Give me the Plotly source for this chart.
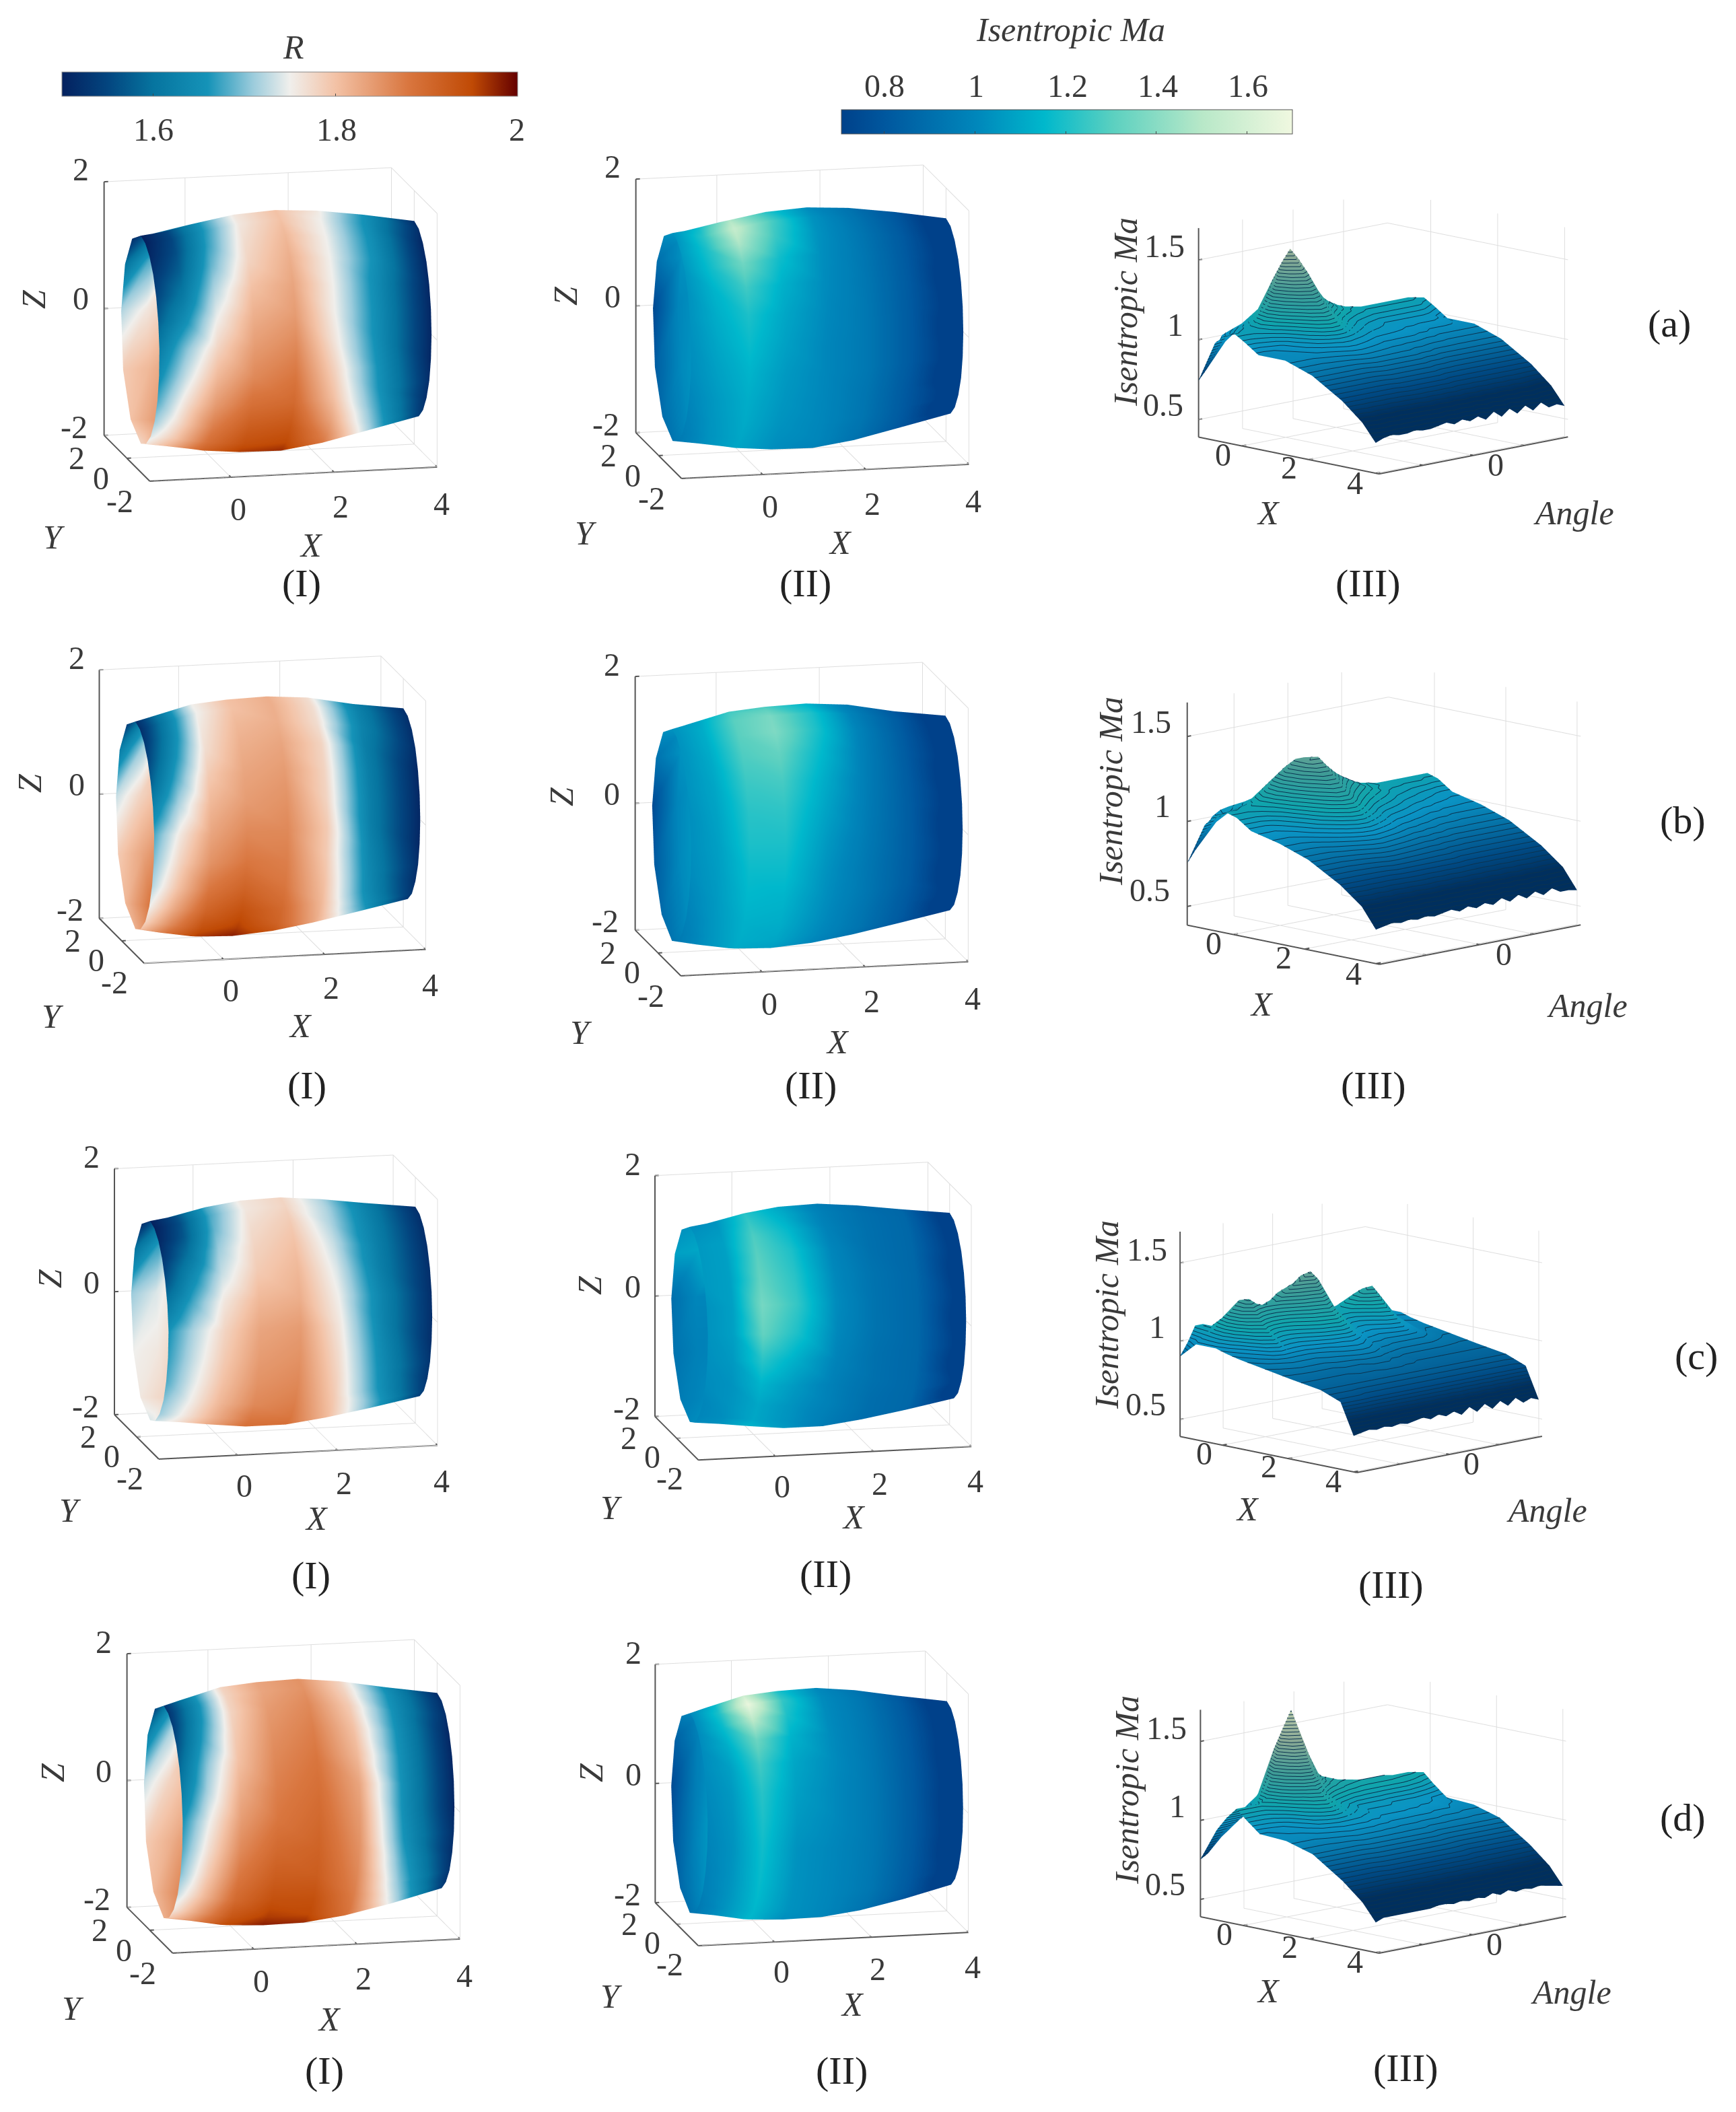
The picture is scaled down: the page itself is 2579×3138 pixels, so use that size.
import numpy as np
import plotly.graph_objects as go

W_PX, H_PX = 2579, 3138
PAGE_OFF = 8  # the page body margin
FONT = "Liberation Serif"

X_MA = [-1.3, -0.8, -0.5, -0.2, 0.1, 0.5, 1.3, 2.1, 3.0, 3.6, 4.0]
ANGLE_MA = [-180, -165, -150, -135, -120, -105, -90, -75, -60, -45, -30, -15, 0, 15, 30, 45, 60, 75, 90, 105, 120, 135, 150, 165]
X_R = [-1.3, -0.8, -0.2, 0.5, 1.3, 2.1, 3.0, 4.0]
ANGLE_R = [-180, -150, -120, -90, -75, -60, -45, -30, -15, 0, 15, 30, 45, 60, 75, 90, 120, 150]

R_A = [
 [172,160,152,150,150,151,153,155,158,162,165,168,171,174,176,178,180,179],
 [176,168,160,155,155,156,158,161,165,170,173,176,178,180,182,184,184,181],
 [180,176,170,166,166,167,169,172,175,178,181,184,187,189,191,192,190,185],
 [182,180,178,176,176,177,178,180,182,184,186,189,192,194,196,198,194,188],
 [182,181,180,180,180,181,182,183,184,186,188,190,193,195,197,199,194,187],
 [178,177,176,176,175,175,175,175,175,176,178,180,183,186,188,190,186,181],
 [168,167,166,166,165,165,165,164,164,164,165,166,168,170,172,174,172,170],
 [153,152,152,152,152,151,151,151,151,151,151,152,152,153,154,155,155,154]]
R_B = [
 [173,162,154,152,152,153,155,158,163,168,170,172,175,178,180,182,181,179],
 [178,171,165,162,162,163,165,168,172,176,178,180,183,186,188,190,188,183],
 [182,180,177,175,175,176,177,179,181,183,185,188,191,194,196,198,194,188],
 [184,182,181,180,180,181,182,183,184,186,188,191,194,196,198,200,196,190],
 [183,183,182,182,182,182,183,184,185,186,187,188,190,191,193,194,191,187],
 [178,178,177,177,177,177,178,178,178,179,179,180,181,182,183,184,182,180],
 [166,165,164,163,163,163,162,162,162,162,163,164,165,167,169,170,169,167],
 [153,153,152,152,152,152,152,151,151,151,151,152,152,153,153,154,154,153]]
R_C = [
 [171,160,152,150,150,151,153,156,161,166,167,168,170,171,173,174,176,175],
 [174,167,160,156,156,157,160,164,168,172,173,174,175,176,177,178,178,176],
 [178,175,171,168,168,169,171,173,176,178,179,180,181,182,183,184,182,180],
 [180,179,177,176,176,177,178,179,181,183,184,185,186,188,189,190,187,183],
 [180,179,179,178,178,179,180,181,182,184,185,186,187,188,189,190,186,183],
 [176,175,173,172,172,172,173,174,175,176,177,178,179,180,181,182,180,178],
 [166,165,163,162,162,162,162,162,163,163,164,165,166,168,169,170,169,168],
 [153,153,152,152,152,152,152,152,152,152,152,153,153,154,154,155,155,154]]
R_D = [
 [173,163,155,153,153,154,156,159,162,166,168,170,173,176,179,182,181,179],
 [178,172,167,164,164,165,167,170,172,175,177,179,181,184,186,188,186,182],
 [182,181,179,178,178,178,179,180,182,184,186,188,190,193,195,197,193,187],
 [185,184,183,183,183,184,185,186,187,188,190,192,194,196,198,200,196,190],
 [185,185,185,185,185,186,187,188,189,190,191,192,194,195,197,198,194,189],
 [180,179,178,178,178,179,180,181,183,184,185,186,187,188,189,190,187,183],
 [168,167,166,165,165,165,165,165,165,165,166,168,170,172,174,175,173,170],
 [153,153,152,152,152,152,151,151,151,151,152,152,153,153,154,155,155,154]]

MA_A = [
 [74,80,90,100,102,103,104,105,106,105,104,104,103,102,100,98,96,95,93,92,90,87,83,78],
 [100,102,104,106,108,112,118,122,120,118,114,112,110,108,106,105,104,103,102,102,102,102,101,100],
 [106,106,107,108,112,122,135,142,138,128,120,116,113,110,108,107,106,105,105,105,105,105,105,106],
 [108,108,108,109,115,130,148,155,148,135,126,120,117,114,112,111,110,110,110,110,110,110,110,109],
 [104,104,105,107,112,124,138,145,140,130,122,118,114,112,110,109,108,108,108,108,108,108,108,106],
 [98,98,99,100,104,112,122,128,125,118,113,110,108,106,105,104,103,103,103,103,103,103,102,100],
 [98,98,98,98,99,100,102,104,104,103,102,101,100,100,100,100,100,99,99,98,98,98,98,98],
 [92,92,92,92,92,92,92,93,94,94,94,94,94,94,93,93,92,92,92,92,92,92,92,92],
 [80,80,80,80,80,80,80,80,81,81,81,81,81,81,80,80,80,80,80,80,80,80,80,80],
 [69,69,70,69,70,69,70,70,70,71,70,71,70,71,70,71,70,71,70,71,70,71,70,69],
 [58,60,61,60,60,61,60,60,61,62,60,62,60,62,59,63,59,63,59,63,59,63,59,60]]
MA_B = [
 [75,82,92,100,103,104,104,104,104,104,104,103,103,102,100,98,96,95,93,91,89,86,82,78],
 [100,102,104,105,106,108,110,112,112,111,110,109,108,107,106,105,104,103,102,102,102,102,101,100],
 [107,107,108,109,110,114,119,122,122,120,118,116,114,112,110,109,108,107,106,106,106,106,106,106],
 [110,110,110,111,113,118,126,130,130,128,125,122,120,117,115,113,112,111,110,110,110,110,110,110],
 [108,108,108,109,112,120,130,136,136,132,128,125,122,119,116,114,112,111,110,110,109,109,109,108],
 [102,102,102,104,108,117,128,137,138,132,127,123,120,117,114,112,110,108,107,106,105,104,103,102],
 [98,98,98,99,102,107,114,120,120,116,112,109,106,104,103,102,101,100,99,99,98,98,98,98],
 [92,92,92,92,93,94,96,98,99,98,97,96,95,94,94,93,93,92,92,92,92,92,92,92],
 [81,81,81,81,81,81,81,82,82,82,82,82,82,82,82,81,81,81,81,81,81,81,81,81],
 [71,71,72,71,72,71,72,71,72,72,71,72,71,72,71,72,71,72,71,72,71,72,71,71],
 [59,60,61,60,61,60,61,60,61,62,60,62,60,62,60,63,60,63,60,63,60,63,60,60]]
MA_C = [
 [90,98,108,108,104,102,102,104,106,106,106,104,104,103,102,100,100,101,101,99,96,94,92,90],
 [100,104,110,108,106,104,104,106,108,108,108,108,108,106,104,104,103,104,105,103,101,99,98,99],
 [100,106,116,118,116,114,114,116,118,120,122,124,122,114,110,108,108,110,112,112,108,104,100,99],
 [100,108,122,128,124,122,122,124,128,130,132,136,132,122,114,110,110,114,118,120,114,106,100,99],
 [98,106,122,130,126,124,124,126,130,134,136,140,134,122,112,110,110,114,120,123,116,106,98,97],
 [96,100,110,116,112,110,110,112,116,120,122,124,120,112,106,104,104,106,110,112,106,100,97,96],
 [93,94,95,96,96,96,96,97,98,100,101,102,101,99,97,97,96,96,96,96,96,95,94,93],
 [90,90,90,90,90,90,90,91,91,91,92,92,92,91,91,90,90,90,90,90,90,90,90,90],
 [87,87,87,87,87,87,87,87,87,87,87,87,87,87,87,87,87,87,87,87,87,87,87,87],
 [82,82,82,82,81,81,81,81,81,81,81,81,81,81,81,81,81,81,81,81,81,81,81,81],
 [62,63,64,63,64,63,64,63,64,65,63,65,63,65,62,66,62,66,62,66,62,66,62,64]]
MA_D = [
 [75,78,84,90,96,100,101,102,102,102,102,101,100,99,98,97,95,94,92,90,88,85,81,78],
 [96,97,98,100,104,110,116,120,117,112,108,106,105,104,104,104,104,104,104,104,103,102,100,98],
 [105,105,105,106,110,124,142,150,140,125,118,114,112,110,109,108,108,108,108,108,108,108,107,106],
 [112,112,112,112,116,136,158,168,152,134,126,122,120,118,117,116,115,115,115,115,114,114,114,113],
 [106,106,106,107,112,128,146,152,140,128,122,118,116,114,113,112,112,112,112,112,112,111,110,108],
 [99,99,100,101,104,112,120,124,120,114,110,108,106,104,104,104,104,103,103,103,103,102,101,100],
 [98,98,98,98,99,100,101,102,102,102,102,101,101,100,100,100,100,100,100,99,99,99,98,98],
 [93,93,93,93,93,93,93,94,94,94,94,94,94,94,94,94,93,93,93,93,93,93,93,93],
 [80,80,80,80,80,80,81,81,81,81,81,81,81,81,81,81,81,80,80,80,80,80,80,80],
 [69,70,70,70,70,70,70,70,70,71,70,71,70,71,70,71,70,71,70,71,70,70,70,69],
 [58,60,60,60,60,60,60,60,61,61,60,61,60,61,60,62,60,62,60,61,60,61,60,59]]

R_TABLES = [R_A, R_B, R_C, R_D]
MA_TABLES = [MA_A, MA_B, MA_C, MA_D]

CENTRE_I = [(402, 482), (390, 1203), (410, 1942), (436, 2669)]
CENTRE_II = [(1192, 478), (1191, 1217), (1208, 1948), (1206, 2672)]
CENTRE_III = [(2055, 494), (2056, 1209), (2022, 1982), (2055, 2694)]
SCALE_I = [1.0, 0.98, 0.97, 1.0]
SCALE_II = [1.0, 1.0, 0.95, 0.94]
SCALE_III = [1.0, 1.065, 0.98, 0.99]

TICKS_BARREL = [("2", -282, -230), ("0", -282, -38), ("-2", -292, 152), ("2", -288, 198), ("0", -252, 228), ("-2", -224, 262),
                ("0", -48, 274), ("2", 104, 270), ("4", 254, 266)]
TICKS_MA = [("1.5", -325, -128), ("1", -309, -11), ("0.5", -327, 107), ("0", -238, 181), ("2", -140, 200), ("4", -42, 223), ("0", 167, 196)]
BAR_LABELS = [("1.6", 228, 192), ("1.8", 500, 192), ("2", 768, 192),
              ("0.8", 1314, 128), ("1", 1450, 128), ("1.2", 1586, 128), ("1.4", 1720, 128), ("1.6", 1854, 128)]

R_COLORS = [[0, "#04215f"], [0.1, "#03457f"], [0.2, "#06749f"], [0.32, "#1593b8"], [0.42, "#9cccdc"], [0.5, "#f0efec"],
            [0.6, "#f3c2a6"], [0.76, "#d9763f"], [0.9, "#c04a05"], [1, "#640000"]]
MA_COLORS = [[0, "#00418a"], [0.1, "#00589f"], [0.3, "#0087bb"], [0.45, "#00b8cc"], [0.6, "#5ad0c0"], [0.8, "#b8e8c8"], [1, "#f0f8e0"]]
MA_SHADED_COLORS = [[0, "#002f5e"], [0.1, "#004a84"], [0.3, "#0a93c4"], [0.42, "#10a5ac"], [0.6, "#3f9c96"], [0.8, "#8aa995"], [1, "#c0d0b0"]]

LABELS_XYZ = [
 ("Z", 25, 222, -90), ("Y", 40, 399, 0), ("X", 231, 405, 0), ("Z", 420, 220, -90), ("Y", 435, 396, 0), ("X", 624, 403, 0),
 ("X", 942, 381, 0), ("Angle", 1169, 381, 0), ("Isentropic Ma", 836, 232, -90),
 ("Z", 22, 582, -90), ("Y", 39, 755, 0), ("X", 223, 762, 0), ("Z", 417, 592, -90), ("Y", 432, 767, 0), ("X", 622, 774, 0),
 ("X", 937, 746, 0), ("Angle", 1179, 747, 0), ("Isentropic Ma", 825, 588, -90),
 ("Z", 37, 950, -90), ("Y", 52, 1122, 0), ("X", 235, 1128, 0), ("Z", 438, 955, -90), ("Y", 454, 1120, 0), ("X", 634, 1127, 0),
 ("X", 927, 1121, 0), ("Angle", 1149, 1122, 0), ("Isentropic Ma", 822, 977, -90),
 ("Z", 39, 1317, -90), ("Y", 54, 1492, 0), ("X", 245, 1500, 0), ("Z", 439, 1317, -90), ("Y", 454, 1483, 0), ("X", 633, 1489, 0),
 ("X", 942, 1479, 0), ("Angle", 1167, 1480, 0), ("Isentropic Ma", 837, 1330, -90),
 ("R", 218, 35, 0), ("Isentropic Ma", 795, 22, 0)]
LABELS_ROMAN = [
 ("(I)", 224, 433), ("(II)", 598, 433), ("(III)", 1016, 433), ("(a)", 1240, 240),
 ("(I)", 228, 806), ("(II)", 602, 806), ("(III)", 1020, 806), ("(b)", 1250, 609),
 ("(I)", 231, 1170), ("(II)", 613, 1169), ("(III)", 1033, 1177), ("(c)", 1260, 1007),
 ("(I)", 241, 1538), ("(II)", 625, 1538), ("(III)", 1044, 1536), ("(d)", 1250, 1350)]

CAM_BARREL = (-0.211, -0.952, 0.222)
CAM_MA = (0.70, -0.686, 0.2)
PX_BARREL = (78.5, 78.5, 96.6)
PX_MA = (71.06, 62.55, 242.0)
RANGE_BARREL = ((-1.57, 4.0), (-2.0, 2.0), (-2.0, 2.0))
RANGE_MA = ((-1.29, 4.1), (-np.pi, np.pi), (0.39, 1.70))
GREY = "#dedede"
DARK = "#555555"
ISO = "#0b3350"
FLAT = dict(ambient=1, diffuse=0, specular=0, roughness=1, fresnel=0)

fig = go.Figure()
LINES = {GREY: ([], [], []), DARK: ([], [], []), ISO: ([], [], [])}
WIDTHS = {GREY: 2, DARK: 4, ISO: 2}


def make_view(cam, px, rng, centre, scale):
    c = np.array(cam, float)
    c = c / np.linalg.norm(c)
    h = np.hypot(c[0], c[1])
    r = np.array([-c[1], c[0], 0]) / h
    u = np.array([-c[0] * c[2], -c[1] * c[2], h * h]) / h
    mid = np.array([(a + b) / 2 for a, b in rng])
    return dict(c=c, r=r, u=u, mid=mid, s=np.array(px) * scale, centre=(centre[0] - PAGE_OFF, centre[1] - PAGE_OFF))


def project(v, x, y, z, lift=0.0):
    """page-space coordinates of data points: x right, z up, y depth"""
    px = (np.asarray(x, float) - v["mid"][0]) * v["s"][0]
    py = (np.asarray(y, float) - v["mid"][1]) * v["s"][1]
    pz = (np.asarray(z, float) - v["mid"][2]) * v["s"][2]
    right = v["r"][0] * px + v["r"][1] * py + v["r"][2] * pz
    up = v["u"][0] * px + v["u"][1] * py + v["u"][2] * pz
    depth = v["c"][0] * px + v["c"][1] * py + v["c"][2] * pz
    return v["centre"][0] + right, -depth - lift, -v["centre"][1] + up


def add_lines(v, segs, color, lift=0.0):
    xs, ys, zs = LINES[color]
    for (a, b) in segs:
        p = project(v, [a[0], b[0]], [a[1], b[1]], [a[2], b[2]], lift)
        xs += [float(p[0][0]), float(p[0][1]), None]
        ys += [float(p[1][0]), float(p[1][1]), None]
        zs += [float(p[2][0]), float(p[2][1]), None]


def frame_barrel(v):
    (xl, xh), (yl, yh), (zl, zh) = RANGE_BARREL
    xt, yt, zt = [0, 2, 4], [-2, 0, 2], [-2, 0, 2]
    g = []
    for t in xt:
        g += [((t, yh, zl), (t, yh, zh)), ((t, yl, zl), (t, yh, zl))]
    for t in yt:
        g += [((xh, t, zl), (xh, t, zh)), ((xl, t, zl), (xh, t, zl))]
    for t in zt:
        g += [((xl, yh, t), (xh, yh, t)), ((xh, yl, t), (xh, yh, t))]
    add_lines(v, g, GREY)
    d = [((xl, yh, zl), (xl, yh, zh)), ((xl, yl, zl), (xl, yh, zl)), ((xl, yl, zl), (xh, yl, zl))]
    for t in zt:
        d.append(((xl, yh, t), (xl + 0.08, yh, t)))
    for t in yt:
        d.append(((xl, t, zl), (xl + 0.08, t, zl)))
    for t in xt:
        d.append(((t, yl, zl), (t, yl + 0.15, zl)))
    add_lines(v, d, DARK)


def frame_ma(v):
    (xl, xh), (yl, yh), (zl, zh) = RANGE_MA
    xt, yt, zt = [0, 2, 4], [-1.68, 0, 1.68], [0.5, 1, 1.5]
    g = []
    for t in xt:
        g += [((t, yh, zl), (t, yh, zh)), ((t, yl, zl), (t, yh, zl))]
    for t in yt:
        g += [((xl, t, zl), (xl, t, zh)), ((xl, t, zl), (xh, t, zl))]
    for t in zt:
        g += [((xl, yl, t), (xl, yh, t)), ((xl, yh, t), (xh, yh, t))]
    add_lines(v, g, GREY)
    d = [((xl, yl, zl), (xl, yl, zh)), ((xl, yl, zl), (xh, yl, zl)), ((xh, yl, zl), (xh, yh, zl))]
    for t in zt:
        d.append(((xl, yl, t), (xl, yl + 0.12, t)))
    for t in xt:
        d.append(((t, yl, zl), (t, yl + 0.15, zl)))
    for t in yt:
        d.append(((xh, t, zl), (xh - 0.1, t, zl)))
    add_lines(v, d, DARK)


def add_mesh(px, py, pz, values, caxis):
    ni, nj = px.shape
    i0 = np.arange(ni - 1)[:, None] * nj + np.arange(nj - 1)[None, :]
    a, b, c, d = i0.ravel(), (i0 + nj).ravel(), (i0 + nj + 1).ravel(), (i0 + 1).ravel()
    fig.add_trace(go.Mesh3d(x=px.ravel(), y=py.ravel(), z=pz.ravel(), intensity=values.ravel(), coloraxis=caxis,
                            i=np.r_[a, a], j=np.r_[b, c], k=np.r_[c, d], lighting=FLAT, hoverinfo="skip"))


def barrel(v, color_values, radius, caxis):
    ang = np.radians(ANGLE_R + [180])
    R = np.array(radius) / 100.0
    R = np.hstack([R, R[:, :1]])
    col = np.array(color_values, float)
    col = np.hstack([col, col[:, :1]])
    XG = np.repeat(np.array(X_R)[:, None], len(ang), axis=1)
    px, py, pz = project(v, XG, -R * np.cos(ang), -R * np.sin(ang))
    add_mesh(px, py, pz, col, caxis)


def iso_segments(XG, AG, M, levels):
    out = []
    ni, nj = M.shape
    for lev in levels:
        for i in range(ni - 1):
            for j in range(nj - 1):
                corners = [(i, j), (i + 1, j), (i + 1, j + 1), (i, j + 1)]
                pts = []
                for k in range(4):
                    p, q = corners[k], corners[(k + 1) % 4]
                    a, b = M[p], M[q]
                    if (a < lev) != (b < lev):
                        t = (lev - a) / (b - a)
                        pts.append((XG[p] + t * (XG[q] - XG[p]), AG[p] + t * (AG[q] - AG[p]), lev))
                if len(pts) == 2:
                    out.append((pts[0], pts[1]))
                elif len(pts) == 4:
                    out += [(pts[0], pts[1]), (pts[2], pts[3])]
    return out


def ma_surface(v, table):
    ang = np.radians(ANGLE_MA + [180])
    M = np.array(table) / 100.0
    M = np.hstack([M, M[:, :1]])
    XG = np.repeat(np.array(X_MA)[:, None], len(ang), axis=1)
    AG = np.repeat(ang[None, :], len(X_MA), axis=0)
    px, py, pz = project(v, XG, AG, M)
    add_mesh(px, py, pz, M, "coloraxis3")
    levels = [0.61 + 0.02 * k for k in range(54)]
    add_lines(v, iso_segments(XG, AG, M, levels), ISO, lift=3.0)


ann = []


def tick_ann(t, x, y):
    ann.append(dict(text=t, x=(x - PAGE_OFF) / W_PX, y=1 - (y - PAGE_OFF) / H_PX, xref="paper", yref="paper", showarrow=False,
                    font=dict(family=FONT, size=48, color="#3a3a3a"), xanchor="center", yanchor="middle"))


ix = [X_MA.index(v) for v in X_R]
ia = [ANGLE_MA.index(v) for v in ANGLE_R]
for i in range(4):
    v1 = make_view(CAM_BARREL, PX_BARREL, RANGE_BARREL, CENTRE_I[i], SCALE_I[i])
    frame_barrel(v1)
    barrel(v1, np.array(R_TABLES[i]) / 100.0, R_TABLES[i], "coloraxis")
    for t, dx, dy in TICKS_BARREL:
        tick_ann(t, CENTRE_I[i][0] + dx * SCALE_I[i], CENTRE_I[i][1] + dy * SCALE_I[i])
    v2 = make_view(CAM_BARREL, PX_BARREL, RANGE_BARREL, CENTRE_II[i], SCALE_II[i])
    frame_barrel(v2)
    barrel(v2, np.array(MA_TABLES[i])[np.ix_(ix, ia)] / 100.0, R_TABLES[i], "coloraxis2")
    for t, dx, dy in TICKS_BARREL:
        tick_ann(t, CENTRE_II[i][0] + dx * SCALE_II[i], CENTRE_II[i][1] + dy * SCALE_II[i])
    v3 = make_view(CAM_MA, PX_MA, RANGE_MA, CENTRE_III[i], SCALE_III[i])
    frame_ma(v3)
    ma_surface(v3, MA_TABLES[i])
    for t, dx, dy in TICKS_MA:
        tick_ann(t, CENTRE_III[i][0] + dx * SCALE_III[i], CENTRE_III[i][1] + dy * SCALE_III[i])
for t, x, y in BAR_LABELS:
    tick_ann(t, x, y)

for col, (xs, ys, zs) in LINES.items():
    fig.add_trace(go.Scatter3d(x=xs, y=ys, z=zs, mode="lines", line=dict(color=col, width=WIDTHS[col]), hoverinfo="skip", showlegend=False))

for t, x, y, rot in LABELS_XYZ:
    ann.append(dict(text=f"<i>{t}</i>", x=(x * 2 - PAGE_OFF) / W_PX, y=1 - (y * 2 - PAGE_OFF) / H_PX, xref="paper", yref="paper", showarrow=False,
                    textangle=rot, font=dict(family=FONT, size=50, color="#3a3a3a"), xanchor="center", yanchor="middle"))
for t, x, y in LABELS_ROMAN:
    ann.append(dict(text=t, x=(x * 2 - PAGE_OFF) / W_PX, y=1 - (y * 2 - PAGE_OFF) / H_PX, xref="paper", yref="paper", showarrow=False,
                    font=dict(family=FONT, size=58, color="#222222"), xanchor="center", yanchor="middle"))

hidden = dict(visible=False, showgrid=False, zeroline=False, showticklabels=False, showbackground=False, showspikes=False, title=dict(text=""), autorange=False)
EYE_D = 0.5
ZOOM = 2.0
fig.update_layout(
    width=W_PX, height=H_PX, margin=dict(l=0, r=0, t=0, b=0, autoexpand=False), autosize=False, paper_bgcolor="white", showlegend=False, hovermode=False,
    annotations=ann,
    scene=dict(domain=dict(x=[0, 1], y=[0, 1]), aspectmode="manual",
               aspectratio=dict(x=ZOOM * W_PX / H_PX, y=ZOOM * 2400 / H_PX, z=ZOOM),
               xaxis=dict(hidden, range=[0, W_PX]), yaxis=dict(hidden, range=[-1200, 1200]), zaxis=dict(hidden, range=[-H_PX, 0]),
               camera=dict(eye=dict(x=0, y=-EYE_D, z=0), up=dict(x=0, y=0, z=1), center=dict(x=0, y=0, z=0), projection=dict(type="orthographic")),
               bgcolor="rgba(0,0,0,0)", dragmode=False),
    coloraxis=dict(cmin=1.5, cmax=2.0, colorscale=R_COLORS, colorbar=dict(
        orientation="h", x=(92 - PAGE_OFF) / W_PX, xanchor="left", y=1 - (148 - PAGE_OFF) / H_PX, yanchor="bottom", len=677, lenmode="pixels", thickness=36, thicknessmode="pixels",
        xpad=0, ypad=0, tickvals=[1.6, 1.8, 2.0], showticklabels=False, ticks="inside", ticklen=4, outlinecolor="#888888", outlinewidth=1)),
    coloraxis2=dict(cmin=0.705, cmax=1.70, colorscale=MA_COLORS, colorbar=dict(
        orientation="h", x=(1250 - PAGE_OFF) / W_PX, xanchor="left", y=1 - (204 - PAGE_OFF) / H_PX, yanchor="bottom", len=670, lenmode="pixels", thickness=36, thicknessmode="pixels",
        xpad=0, ypad=0, tickvals=[0.8, 1, 1.2, 1.4, 1.6], showticklabels=False, ticks="inside", ticklen=4, outlinecolor="#555555", outlinewidth=1)),
    coloraxis3=dict(cmin=0.705, cmax=1.70, colorscale=MA_SHADED_COLORS, showscale=False))

fig.write_html("out.html")
